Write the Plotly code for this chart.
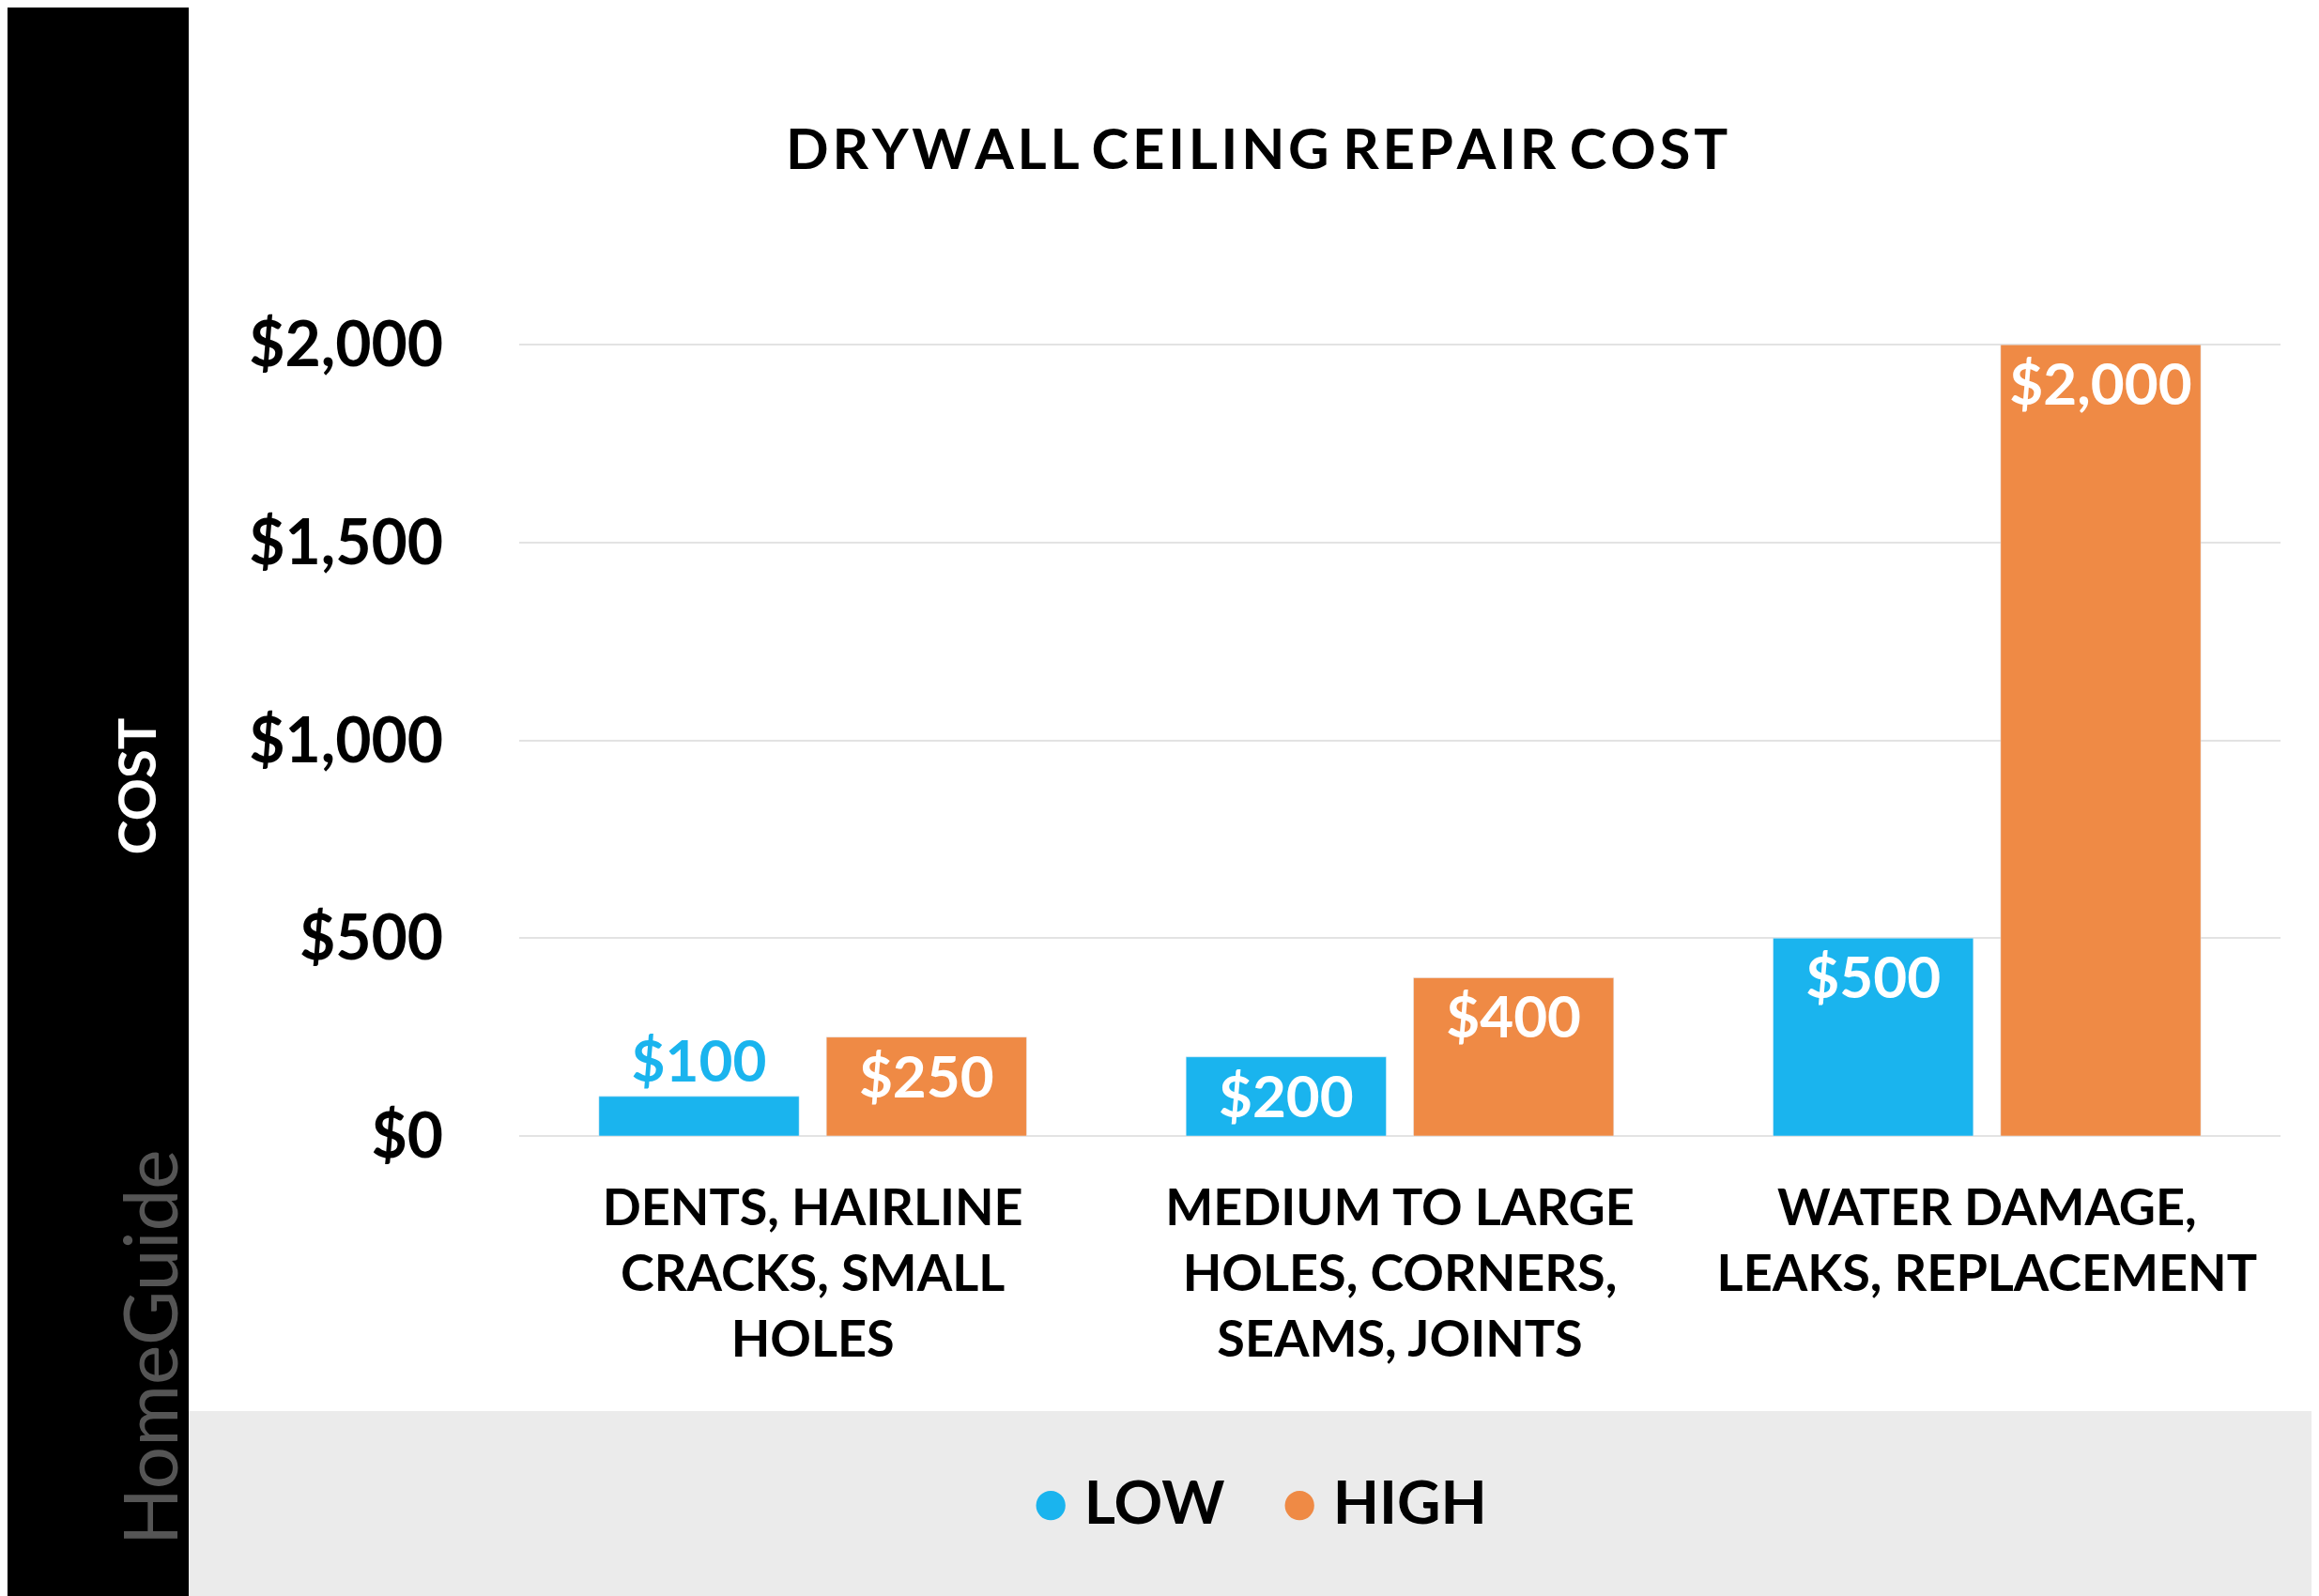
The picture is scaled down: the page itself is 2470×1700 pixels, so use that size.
import plotly.graph_objects as go

categories = ["DENTS, HAIRLINE<br>CRACKS, SMALL<br>HOLES",
              "MEDIUM TO LARGE<br>HOLES, CORNERS,<br>SEAMS, JOINTS",
              "WATER DAMAGE,<br>LEAKS, REPLACEMENT"]
low = [100, 200, 500]
high = [250, 400, 2000]
y_ticks = [0, 500, 1000, 1500, 2000]

W, H = 2470, 1700
L, R, T, B = 545, 49, 358, 498
FONT = "Lato, 'Open Sans', sans-serif"
BLUE = "#1ab4ee"
ORANGE = "#ef8a45"


def px(x):
    return (x - L) / (W - L - R)


def py(y):
    return (H - B - y) / (H - T - B)


fig = go.Figure()
fig.add_trace(go.Bar(
    x=categories, y=low, name="LOW", marker_color=BLUE, showlegend=False,
    text=[f"<b>${v:,}</b>" for v in low],
    textposition=["outside", "inside", "inside"],
    insidetextanchor="end", cliponaxis=False,
    textfont=dict(size=62, family=FONT, color=[BLUE, "white", "white"]),
))
fig.add_trace(go.Bar(
    x=categories, y=high, name="HIGH", marker_color=ORANGE, showlegend=False,
    text=[f"<b>${v:,}</b>" for v in high], textposition="inside",
    insidetextanchor="end",
    textfont=dict(size=62, family=FONT, color="white"),
))

# background panels
fig.add_shape(type="rect", xref="paper", yref="paper", x0=px(-10), x1=px(193),
              y0=py(1710), y1=py(-10), fillcolor="black", line_width=0, layer="below")
fig.add_shape(type="rect", xref="paper", yref="paper", x0=px(193), x1=px(2480),
              y0=py(1710), y1=py(1495), fillcolor="#ebebeb", line_width=0, layer="below")

fig.add_annotation(text="<b>COST</b>", xref="paper", yref="paper", x=px(100), y=py(830),
                   textangle=-90, showarrow=False, font=dict(size=56, family=FONT, color="white"))
fig.add_annotation(text="HomeGuide", xref="paper", yref="paper", x=px(100), y=py(1640),
                   textangle=-90, showarrow=False, font=dict(size=80, family=FONT, color="#555555"))
fig.add_annotation(text="<b>D R Y W A L L  C E I L I N G  R E P A I R  C O S T</b>".replace(" ", "\u200a").replace("\u200a\u200a", " "),
                   xref="paper", yref="paper",
                   x=px(1330), y=py(111), showarrow=False,
                   font=dict(size=60, family=FONT, color="black"))
# legend
for label, color, x in [("LOW", BLUE, 1090), ("HIGH", ORANGE, 1355)]:
    fig.add_annotation(text=f"<span style='color:{color}'>●</span> <b>{label}</b>",
                       xref="paper", yref="paper", x=px(x), y=py(1631), xanchor="left",
                       showarrow=False, font=dict(size=64, family=FONT, color="black"))

fig.update_layout(
    width=W, height=H, margin=dict(l=L, r=R, t=T, b=B),
    paper_bgcolor="white", plot_bgcolor="white",
    barmode="group", bargap=0.225, bargroupgap=0.12,
    font=dict(family=FONT),
)
fig.update_xaxes(tickfont=dict(size=54, family=FONT, color="black"), showline=False,
                 ticks="", ticklabelstandoff=40,
                 ticktext=[f"<b>{c}</b>" for c in categories], tickvals=categories)
fig.update_yaxes(range=[0, 2003], tickvals=y_ticks, ticktext=[f"<b>${v:,}</b>" for v in y_ticks],
                 tickfont=dict(size=66, family=FONT, color="black"), gridcolor="#e3e3e3",
                 gridwidth=2, zeroline=True, zerolinecolor="#e3e3e3", zerolinewidth=2,
                 ticklabelstandoff=80)

fig.write_html("out.html")
